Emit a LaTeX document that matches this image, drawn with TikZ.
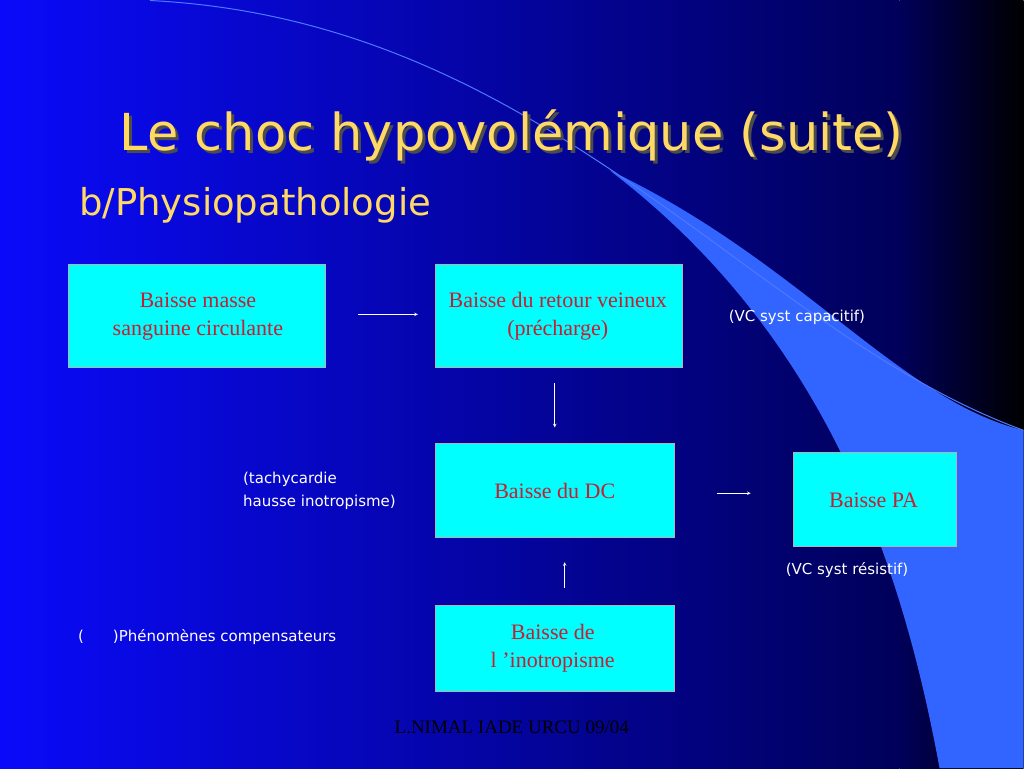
\documentclass[tikz,border=0pt]{standalone}
\usepackage{fontspec}
\setmainfont{Liberation Serif}
\setsansfont{DejaVu Sans}
\begin{document}
\begin{tikzpicture}[x=1pt,y=-1pt,
  box/.style={draw=gray!60,fill=cyanb,anchor=north west,inner sep=0pt},
  btxt/.style={text=redt,font=\rmfamily\fontsize{22}{28}\selectfont,align=center},
  lab/.style={text=white,font=\sffamily\fontsize{15}{23}\selectfont,anchor=west,align=left,inner sep=0pt},
  arr/.style={draw=white,-stealth,semithick}]
\definecolor{ttl}{HTML}{FFD966}
\definecolor{cyanb}{RGB}{0,255,255}
\definecolor{redt}{RGB}{200,30,50}
\definecolor{bgl}{RGB}{10,10,250}
\definecolor{bgd}{RGB}{0,0,90}
\definecolor{swo}{RGB}{50,100,255}
\definecolor{swl}{RGB}{80,120,255}
\shade[left color=bgl,right color=bgd] (0,0) rectangle (900,768);
\shade[left color=bgd,right color=black] (900,0) rectangle (1024,768);
\fill[swo] (610,170) .. controls (800,260) and (900,400) .. (1024,430) -- (1024,768) -- (940,768) .. controls (900,550) and (820,330) .. (610,170) -- cycle;
\draw[swl,line width=1pt] (150,0) .. controls (550,20) and (750,330) .. (1024,430);
\useasboundingbox (0,0) rectangle (1024,768);
\node[text=black!70,font=\sffamily\fontsize{51}{56}\selectfont] at (515,138) {Le choc hypovolémique (suite)};
\node[text=ttl,font=\sffamily\fontsize{51}{56}\selectfont] (t) at (512,135) {Le choc hypovolémique (suite)};
\node[text=ttl,font=\sffamily\fontsize{37}{42}\selectfont,anchor=west,inner sep=0pt] (s) at (79,205) {b/Physiopathologie};
\node[box,minimum width=257pt,minimum height=103pt] (b1) at (68,264) {};
\node[btxt] at (198,316) {Baisse masse\\ sanguine circulante};
\node[box,minimum width=247pt,minimum height=103pt] (b2) at (435,264) {};
\node[btxt] at (558,316) {Baisse du retour veineux\\(précharge)};
\node[box,minimum width=239pt,minimum height=94pt] (b3) at (435,443) {};
\node[btxt] at (555,491) {Baisse du DC};
\node[box,minimum width=163pt,minimum height=94pt] (b4) at (793,452) {};
\node[btxt] at (874,500) {Baisse PA};
\node[box,minimum width=239pt,minimum height=86pt] (b5) at (435,605) {};
\node[btxt] at (553,648) {Baisse de\\ l ’inotropisme};
\coordinate (a1) at (358,314); \coordinate (a2) at (418,314);
\coordinate (a3) at (555,383); \coordinate (a4) at (555,427);
\coordinate (a5) at (717,493); \coordinate (a6) at (751,493);
\coordinate (a7) at (565,588); \coordinate (a8) at (565,562);
\draw[arr] (a1) -- (a2); \draw[arr] (a3) -- (a4); \draw[arr] (a5) -- (a6); \draw[arr] (a7) -- (a8);
\node[lab] at (729,317) {(VC syst capacitif)};
\node[lab] at (243,491) {(tachycardie\\hausse inotropisme)};
\node[lab] at (786,570) {(VC syst résistif)};
\node[lab] at (78,637) {(\hspace{29pt})Phénomènes compensateurs};
\node[text=black,font=\rmfamily\fontsize{19}{22}\selectfont] at (512,727) {L.NIMAL IADE URCU 09/04};
\end{tikzpicture}
\end{document}
